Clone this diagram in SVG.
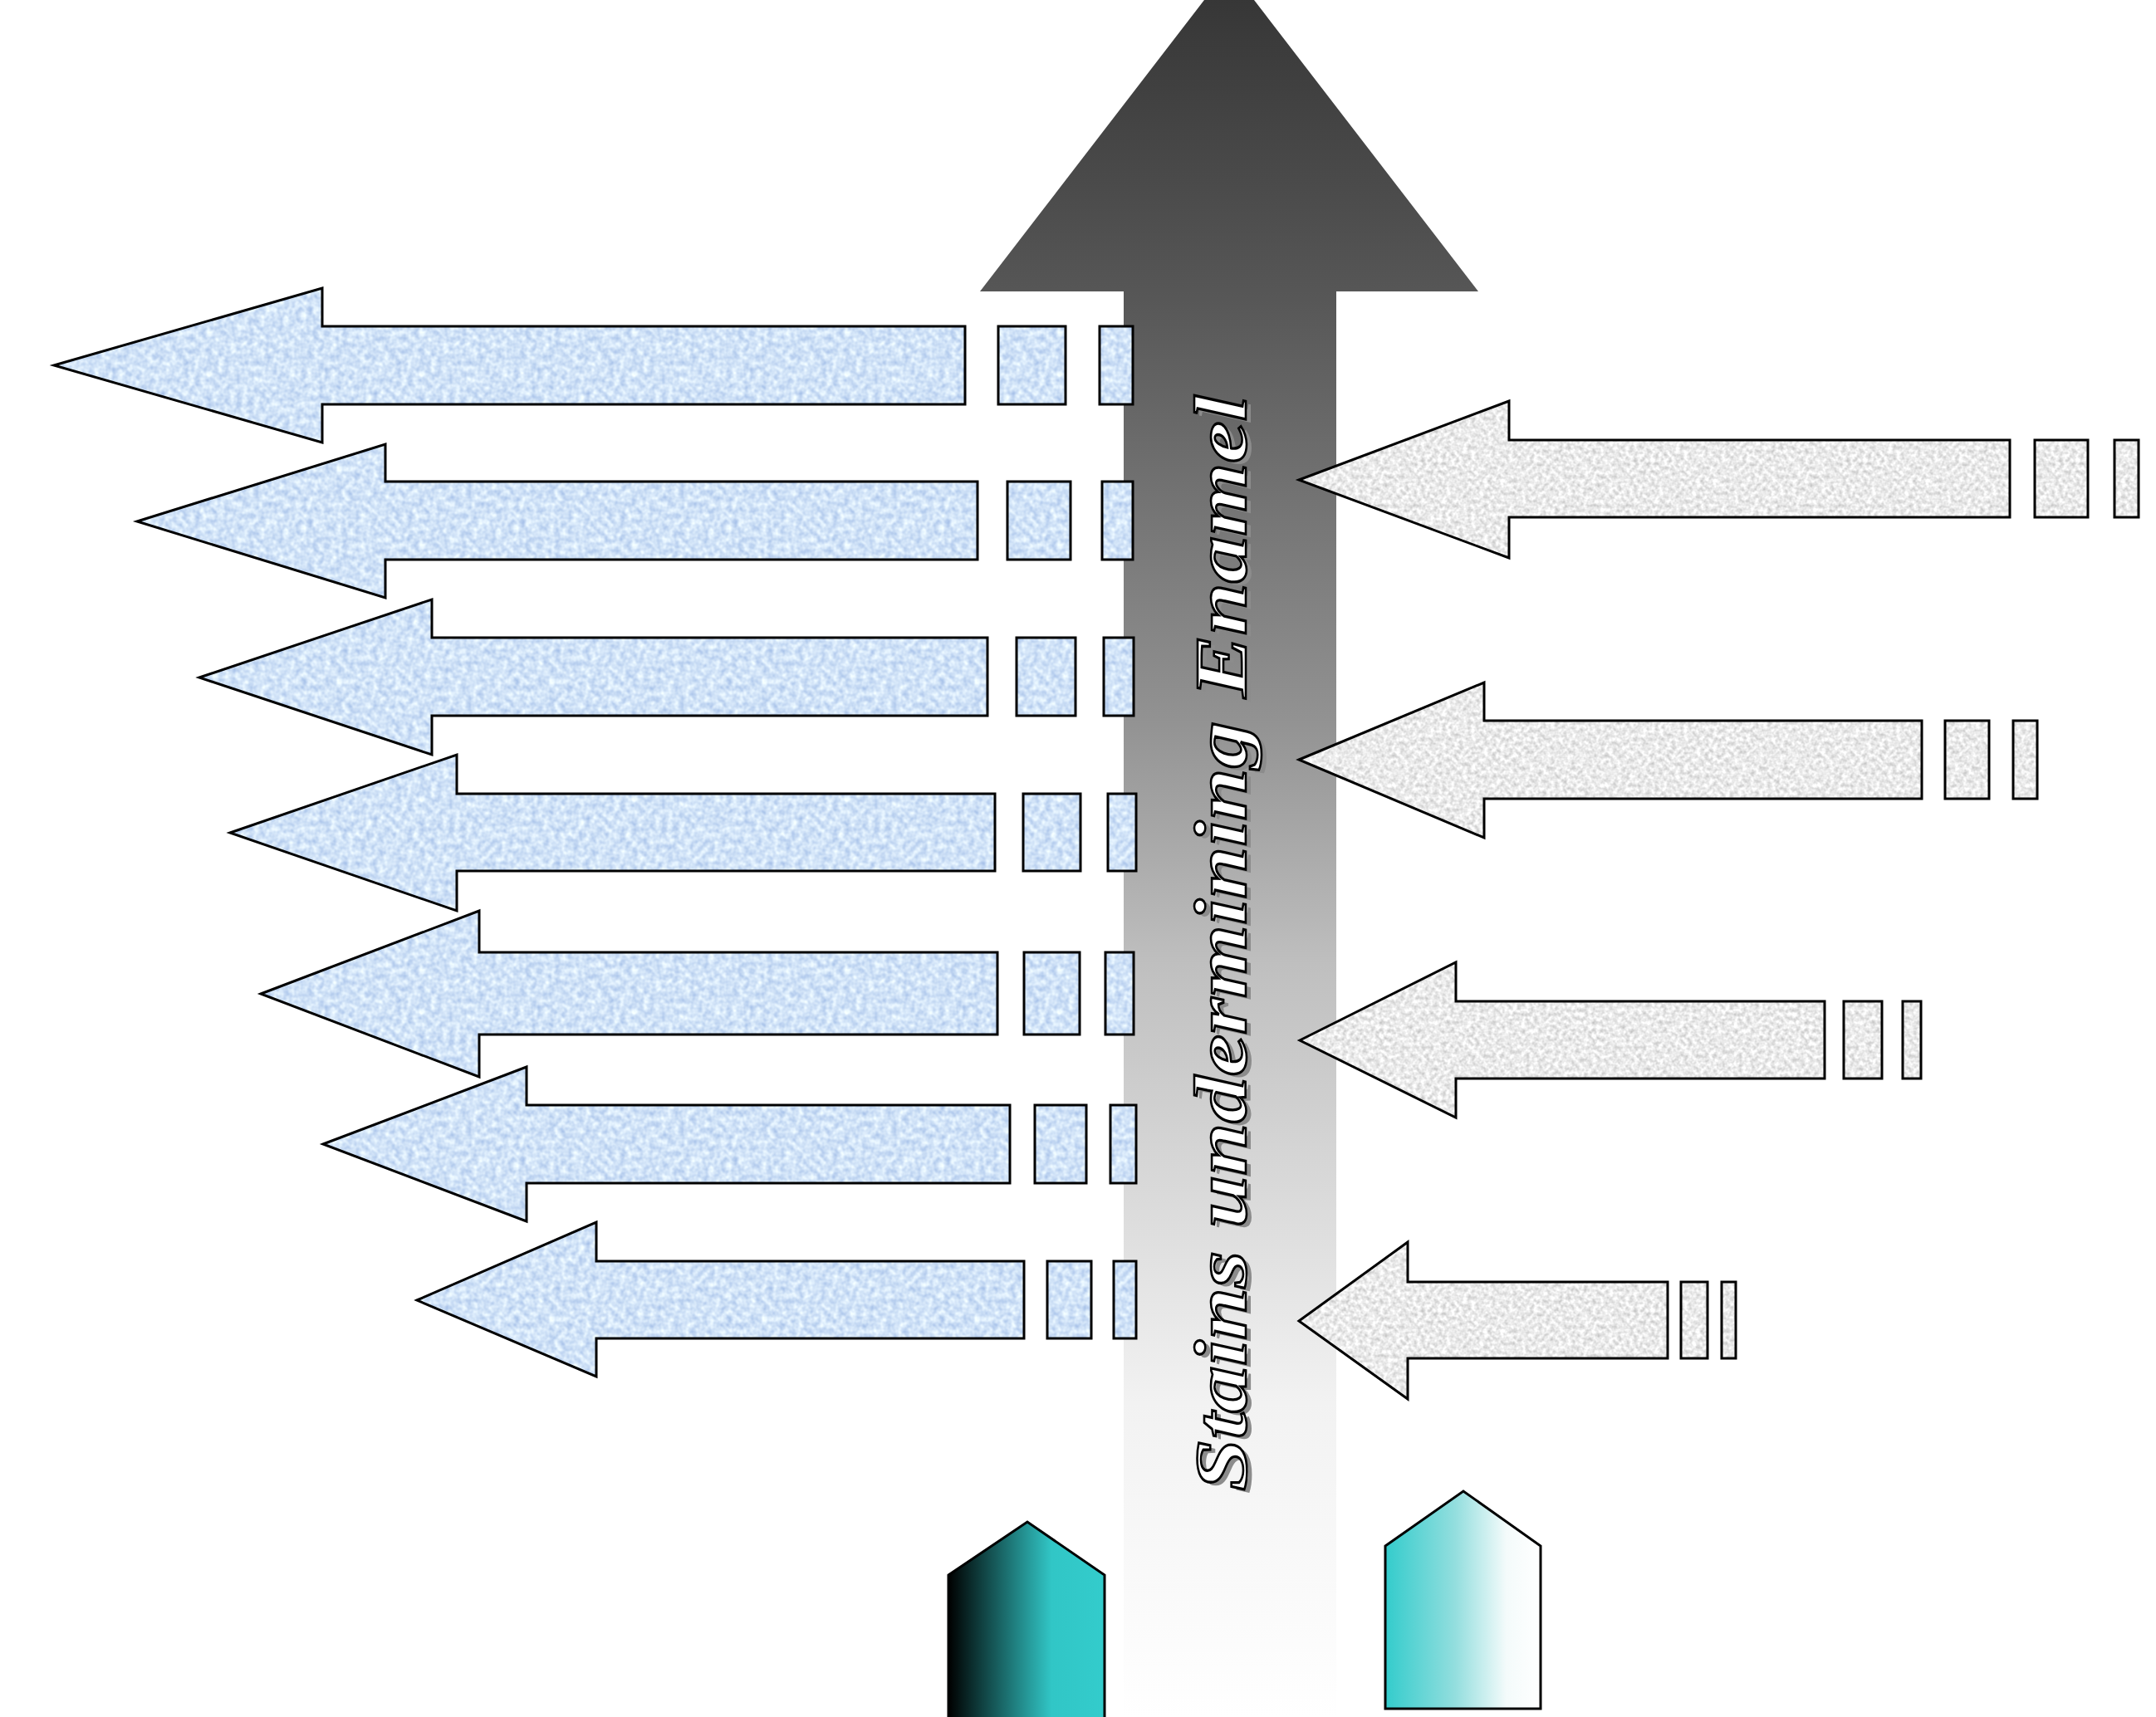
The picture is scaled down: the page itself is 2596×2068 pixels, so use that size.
<svg xmlns="http://www.w3.org/2000/svg" width="2596" height="2068" viewBox="0 0 2596 2068">
  <defs>
    <linearGradient id="gBig" gradientUnits="userSpaceOnUse" x1="0" y1="-40" x2="0" y2="2068">
      <stop offset="0" stop-color="#333333"/>
      <stop offset="0.19" stop-color="#575757"/>
      <stop offset="0.43" stop-color="#929292"/>
      <stop offset="0.57" stop-color="#bfbfbf"/>
      <stop offset="0.82" stop-color="#f2f2f2"/>
      <stop offset="1" stop-color="#ffffff"/>
    </linearGradient>
    <linearGradient id="gTealDark" x1="0" y1="0" x2="1" y2="0">
      <stop offset="0" stop-color="#000000"/>
      <stop offset="0.66" stop-color="#31c6c6"/>
      <stop offset="1" stop-color="#33cccc"/>
    </linearGradient>
    <linearGradient id="gTealLight" x1="0" y1="0" x2="1" y2="0">
      <stop offset="0" stop-color="#33cccc"/>
      <stop offset="0.45" stop-color="#93dede"/>
      <stop offset="0.78" stop-color="#f4fbfb"/>
      <stop offset="1" stop-color="#ffffff"/>
    </linearGradient>
    <filter id="nBlue" x="0" y="0" width="1" height="1" color-interpolation-filters="sRGB">
      <feTurbulence type="fractalNoise" baseFrequency="0.14" numOctaves="2" seed="3" stitchTiles="stitch"/>
      <feColorMatrix type="matrix" values="0.4 0 0 0 0.62  0.32 0 0 0 0.73  0.14 0 0 0 0.90  0 0 0 0 1"/>
    </filter>
    <filter id="nGray" x="0" y="0" width="1" height="1" color-interpolation-filters="sRGB">
      <feTurbulence type="fractalNoise" baseFrequency="0.2" numOctaves="2" seed="7" stitchTiles="stitch"/>
      <feColorMatrix type="matrix" values="0.38 0 0 0 0.73  0.38 0 0 0 0.73  0.38 0 0 0 0.73  0 0 0 0 1"/>
    </filter>
    <pattern id="pBlue" patternUnits="userSpaceOnUse" x="0" y="0" width="256" height="256">
      <rect width="256" height="256" fill="#d3e4f8" filter="url(#nBlue)"/>
    </pattern>
    <pattern id="pGray" patternUnits="userSpaceOnUse" x="0" y="0" width="256" height="256">
      <rect width="256" height="256" fill="#e8e8e8" filter="url(#nGray)"/>
    </pattern>
  </defs>
  <style>
    .blue { fill: url(#pBlue); stroke: #000; stroke-width: 3; stroke-linejoin: miter; }
    .gray { fill: url(#pGray); stroke: #000; stroke-width: 3; stroke-linejoin: miter; }
    .title { font-family: "Liberation Serif", "DejaVu Serif", serif; font-style: italic; font-weight: bold; font-size: 88px; }
    .shadow { fill: #8c8c8c; }
    .main { fill: #ffffff; stroke: #000; stroke-width: 2.6; }
    .pent { stroke: #000; stroke-width: 3; stroke-linejoin: miter; }
  </style>

  <rect width="2596" height="2068" fill="#ffffff"/>

  <g id="main-arrow">
    <polygon points="1480,-39 1780,351 1609,351 1609,2068 1353,2068 1353,351 1180,351" fill="url(#gBig)"/>
  </g>

  <g id="connectors">
    <g id="left-arrow-1">
      <polygon class="blue" points="65,440 388,347 388,393 1162,393 1162,487 388,487 388,533"/>
      <rect class="blue" x="1202" y="393" width="81" height="94"/>
      <rect class="blue" x="1324" y="393" width="40" height="94"/>
    </g>
    <g id="left-arrow-2">
      <polygon class="blue" points="165,628 464,535 464,580 1177,580 1177,674 464,674 464,720"/>
      <rect class="blue" x="1213" y="580" width="76" height="94"/>
      <rect class="blue" x="1327" y="580" width="37" height="94"/>
    </g>
    <g id="left-arrow-3">
      <polygon class="blue" points="240,816 520,722 520,768 1189,768 1189,862 520,862 520,909"/>
      <rect class="blue" x="1224" y="768" width="71" height="94"/>
      <rect class="blue" x="1329" y="768" width="36" height="94"/>
    </g>
    <g id="left-arrow-4">
      <polygon class="blue" points="277,1003 550,909 550,956 1198,956 1198,1049 550,1049 550,1097"/>
      <rect class="blue" x="1232" y="956" width="69" height="93"/>
      <rect class="blue" x="1334" y="956" width="34" height="93"/>
    </g>
    <g id="left-arrow-5">
      <polygon class="blue" points="314,1197 577,1097 577,1147 1201,1147 1201,1246 577,1246 577,1297"/>
      <rect class="blue" x="1233" y="1147" width="67" height="99"/>
      <rect class="blue" x="1331" y="1147" width="34" height="99"/>
    </g>
    <g id="left-arrow-6">
      <polygon class="blue" points="389,1378 634,1285 634,1331 1216,1331 1216,1425 634,1425 634,1471"/>
      <rect class="blue" x="1246" y="1331" width="62" height="94"/>
      <rect class="blue" x="1337" y="1331" width="31" height="94"/>
    </g>
    <g id="left-arrow-7">
      <polygon class="blue" points="502,1566 718,1472 718,1519 1233,1519 1233,1612 718,1612 718,1658"/>
      <rect class="blue" x="1261" y="1519" width="53" height="93"/>
      <rect class="blue" x="1341" y="1519" width="27" height="93"/>
    </g>

    <g id="right-arrow-1">
      <polygon class="gray" points="1564,578 1817,483 1817,530 2420,530 2420,623 1817,623 1817,672"/>
      <rect class="gray" x="2450" y="530" width="64" height="93"/>
      <rect class="gray" x="2546" y="530" width="29" height="93"/>
    </g>
    <g id="right-arrow-2">
      <polygon class="gray" points="1564,915 1787,822 1787,868 2314,868 2314,962 1787,962 1787,1009"/>
      <rect class="gray" x="2342" y="868" width="53" height="94"/>
      <rect class="gray" x="2424" y="868" width="29" height="94"/>
    </g>
    <g id="right-arrow-3">
      <polygon class="gray" points="1565,1253 1753,1159 1753,1206 2197,1206 2197,1299 1753,1299 1753,1346"/>
      <rect class="gray" x="2220" y="1206" width="46" height="93"/>
      <rect class="gray" x="2291" y="1206" width="22" height="93"/>
    </g>
    <g id="right-arrow-4">
      <polygon class="gray" points="1564,1591 1695,1496 1695,1544 2008,1544 2008,1636 1695,1636 1695,1685"/>
      <rect class="gray" x="2024" y="1544" width="32" height="92"/>
      <rect class="gray" x="2073" y="1544" width="17" height="92"/>
    </g>
  </g>

  <g id="title">
    <text class="title shadow" transform="translate(1506,1140) rotate(-90)" text-anchor="middle" textLength="1320" lengthAdjust="spacingAndGlyphs">Stains undermining Enamel</text>
    <text class="title main" transform="translate(1500,1136) rotate(-90)" text-anchor="middle" textLength="1320" lengthAdjust="spacingAndGlyphs">Stains undermining Enamel</text>
  </g>

  <g id="pentagon-left">
    <polygon class="pent" points="1142,1897 1237,1833 1330,1897 1330,2072 1142,2072" fill="url(#gTealDark)"/>
  </g>
  <g id="pentagon-right">
    <polygon class="pent" points="1668,1862 1762,1796 1855,1862 1855,2058 1668,2058" fill="url(#gTealLight)"/>
  </g>
</svg>
